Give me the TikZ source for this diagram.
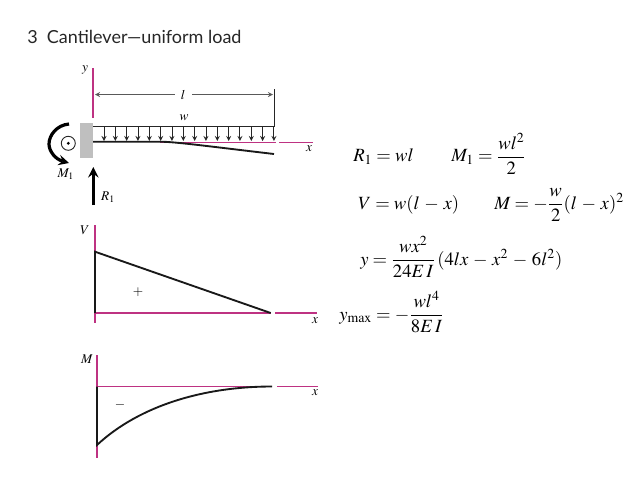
\documentclass[tikz,border=0pt]{standalone}
\usepackage{amsmath}
\usepackage{mathptmx}
\usepackage{fontspec}
\setmainfont{Lato}
\usepackage{xcolor}
\definecolor{axispink}{RGB}{190,50,130}
\medmuskip=4.5mu
\tikzset{
  axisline/.style={color=axispink,line width=1pt},
  beamline/.style={color=black!90,line width=1.4pt},
  thinline/.style={color=black!85,line width=0.7pt},
  eqn/.style={anchor=base west,inner sep=0.75pt,font=\fontsize{14}{17}\selectfont},
  lbl/.style={inner sep=0.75pt,font=\fontsize{10}{12}\selectfont}
}
\begin{document}
\begin{tikzpicture}[x=0.75pt,y=0.75pt,yscale=-1,xscale=1]
        \useasboundingbox (0,0) rectangle (638,479);

        % Title
        \draw (27,43) node (title) [anchor=base west,inner sep=0pt,font=\fontsize{13.5}{16}\selectfont,color=black!85]  {3\ \ Cantilever---uniform load};

        %Shape: Wall
        \fill [color=black!25] (80,123) rectangle (93,158);
        %Straight Lines: axes of the beam
        \draw [axisline] (93,68) -- (93,118);
        \draw [axisline] (160,142.5) -- (276,142.5);
        \draw [axisline] (279,142.5) -- (313,142.5);
        %Straight Lines: span
        \draw [thinline] (274,89) -- (274,127);
        \draw [thinline,color=black!65,stealth-] (95,94.5) -- (175,94.5);
        \draw [thinline,color=black!65,-stealth] (192,94.5) -- (273,94.5);
        %Straight Lines: load
        \draw [thinline] (93,126.7) -- (274,126.7);
        \foreach \i in {0,...,15}
          \draw [thinline,-stealth] ({104+11.33*\i},127) -- ({104+11.33*\i},141);
        %Curve: beam
        \draw [beamline] (93,141.7) -- (160,141.7) .. controls (175,141.7) and (210,146.5) .. (274,154);
        %Shape: Circle
        \draw [thinline] (68.3,143.3) circle [radius=7];
        \fill (68.3,143.3) circle [radius=1.6];
        %Curve: moment
        \draw [line width=2.4pt,-stealth] (69,124) .. controls (57,125) and (49,135) .. (49,144) .. controls (49,151) and (55,159) .. (69,163);
        %Straight Lines: reaction
        \draw [line width=2.4pt,-stealth] (93.3,205) -- (93.3,167);

        %Straight Lines: shear diagram
        \draw [axisline] (95,225) -- (95,323);
        \draw [axisline] (95,313) -- (270.7,313);
        \draw [axisline] (275,313) -- (317,313);
        \draw [beamline] (95,313) -- (95,251.7) -- (270.7,313);

        %Straight Lines: moment diagram
        \draw [axisline] (97,355) -- (97,457.7);
        \draw [axisline] (97,386.5) -- (272,386.5);
        \draw [axisline] (277,386.5) -- (318,386.5);
        \draw [beamline] (97,386.5) -- (97,445) .. controls (140,405) and (205,386.5) .. (272,386.5);

        % Text Node
        \draw (85,70) node (ylabel) [lbl]  {$y$};
        \draw (183,94.5) node (llabel) [lbl]  {$l$};
        \draw (184,118) node (wlabel) [lbl]  {$w$};
        \draw (309,149) node (xa) [lbl]  {$x$};
        \draw (65.7,174) node (Mlabel) [lbl]  {$M_{1}$};
        \draw (108,197) node (Rlabel) [lbl]  {$R_{1}$};
        \draw (85,230) node (Vlabel) [lbl]  {$V$};
        \draw (138,291.7) node (plus) [lbl]  {$+$};
        \draw (315,321) node (xb) [lbl]  {$x$};
        \draw (87,359) node (Mdiag) [lbl]  {$M$};
        \draw (120,405) node (minus) [lbl]  {$-$};
        \draw (315,393) node (xc) [lbl]  {$x$};

        % Text Node
        \draw (352,161.7) node (eqR) [eqn]  {$R_{1}=wl$};
        \draw (450,161.7) node (eqM) [eqn]  {$M_{1}=\dfrac{wl^{2}}{2}$};
        \draw (357,209) node (eqV) [eqn]  {$V=w(l-x)$};
        \draw (493,209) node (eqMx) [eqn]  {$M=-\dfrac{w}{2}(l-x)^{2}$};
        \draw (359,265) node (eqy) [eqn]  {$y=\dfrac{wx^{2}}{24E\,I}\,(4lx-x^{2}-6l^{2})$};
        \draw (338,320) node (eqymax) [eqn]  {$y_{\mathrm{max}}=-\dfrac{wl^{4}}{8E\,I}$};
\end{tikzpicture}
\end{document}
